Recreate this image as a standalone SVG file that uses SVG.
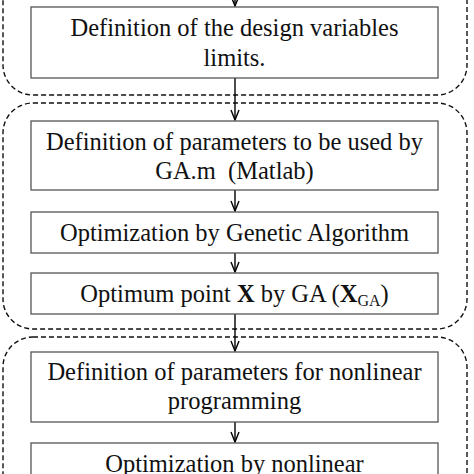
<svg xmlns="http://www.w3.org/2000/svg" width="474" height="474" viewBox="0 0 474 474">
<defs>
<marker id="ah" markerWidth="12" markerHeight="10" refX="11" refY="5" orient="auto" markerUnits="userSpaceOnUse" viewBox="0 0 12 10">
<path d="M1,1 L11,5 L1,9" fill="none" stroke="#000" stroke-width="1.4"/>
</marker>
<style>
.grp{fill:none;stroke:#111;stroke-width:1.4;stroke-dasharray:5,3}
.box{fill:#fff;stroke:#555;stroke-width:1.3}
.t{font-family:"Liberation Serif","Times New Roman",serif;font-size:24.5px;fill:#111;text-anchor:middle;white-space:pre}
.c{stroke:#000;stroke-width:1.4;fill:none}
</style>
</defs>
<rect width="474" height="474" fill="#fff"/>
<g id="groups">
<rect id="group1" class="grp" x="3" y="-60" width="464" height="155" rx="30" ry="30"/>
<rect id="group2" class="grp" x="3" y="103" width="464" height="226" rx="30" ry="30"/>
<rect id="group3" class="grp" x="3" y="337" width="464" height="200" rx="30" ry="30"/>
</g>
<g id="connectors">
<line class="c" x1="235" y1="-5" x2="235" y2="6" marker-end="url(#ah)"/>
<line class="c" x1="235" y1="78" x2="235" y2="120" marker-end="url(#ah)"/>
<line class="c" x1="235" y1="190" x2="235" y2="211" marker-end="url(#ah)"/>
<line class="c" x1="235" y1="253" x2="235" y2="272" marker-end="url(#ah)"/>
<line class="c" x1="235" y1="314" x2="235" y2="351" marker-end="url(#ah)"/>
<line class="c" x1="235" y1="422" x2="235" y2="442" marker-end="url(#ah)"/>
</g>
<g id="node1">
<rect class="box" x="31" y="7" width="407" height="71"/>
<text class="t" x="234.5" y="36">Definition of the design variables</text>
<text class="t" x="234.5" y="66">limits.</text>
</g>
<g id="node2">
<rect class="box" x="31" y="121" width="407" height="69"/>
<text class="t" x="234.5" y="150">Definition of parameters to be used by</text>
<text class="t" x="234.5" y="179">GA.m  (Matlab)</text>
</g>
<g id="node3">
<rect class="box" x="31" y="212" width="407" height="41"/>
<text class="t" x="234.5" y="241">Optimization by Genetic Algorithm</text>
</g>
<g id="node4">
<rect class="box" x="31" y="273" width="407" height="41"/>
<text class="t" x="234.5" y="302">Optimum point <tspan font-weight="bold">X</tspan> by GA (<tspan font-weight="bold">X</tspan><tspan font-size="16" dy="4">GA</tspan><tspan dy="-4">)</tspan></text>
</g>
<g id="node5">
<rect class="box" x="31" y="352" width="407" height="70"/>
<text class="t" x="234.5" y="380">Definition of parameters for nonlinear</text>
<text class="t" x="234.5" y="409">programming</text>
</g>
<g id="node6">
<rect class="box" x="31" y="443" width="407" height="60"/>
<text class="t" x="234.5" y="472">Optimization by nonlinear</text>
</g>
</svg>
